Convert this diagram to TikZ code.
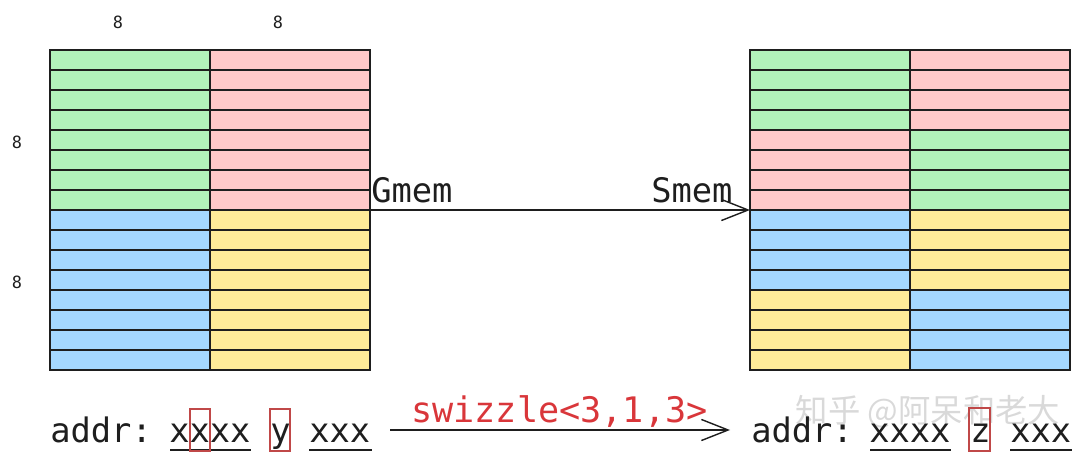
\documentclass[tikz,border=0pt]{standalone}
\usepackage{fontspec}
\newfontfamily\codefont{DejaVu Sans Mono}
\newfontfamily\cjkfont{Noto Sans CJK SC}
\usetikzlibrary{arrows.meta, positioning}
\definecolor{cgreen}{HTML}{B2F2BB}
\definecolor{cpink}{HTML}{FFC9C9}
\definecolor{cblue}{HTML}{A5D8FF}
\definecolor{cyellow}{HTML}{FFEC99}
\definecolor{cred}{HTML}{D9363A}
\definecolor{cbox}{HTML}{C04848}
\definecolor{cink}{HTML}{1E1E1E}
\tikzset{
	cell/.style={draw=cink, line width=1.35pt},
	codetext/.style={font=\codefont\fontsize{24}{28}\selectfont, text=cink, inner sep=0pt},
	sizetext/.style={font=\codefont\fontsize{12}{14}\selectfont, text=cink, inner sep=0pt}
}
\tikzset{
	flow/.style={draw=cink, line width=1pt, -{Straight Barb[length=19pt,width=15pt,line width=1pt]}}
}

\begin{document}
\begin{tikzpicture}[x=0.025cm, y=-0.025cm]
      \useasboundingbox (0,0) rectangle (1087,465);

      % source tile (global memory)
      \foreach \y/\a/\b in {50/cgreen/cpink, 210/cblue/cyellow} {
        \foreach \k in {0,...,7} {
          \filldraw[cell, fill=\a] (50,\y+20*\k) rectangle ++(160,20);
          \filldraw[cell, fill=\b] (210,\y+20*\k) rectangle ++(160,20);
        }
      }
      % swizzled tile (shared memory)
      \foreach \y/\a/\b in {50/cgreen/cpink, 130/cpink/cgreen,
                            210/cblue/cyellow, 290/cyellow/cblue} {
        \foreach \k in {0,...,3} {
          \filldraw[cell, fill=\a] (750,\y+20*\k) rectangle ++(160,20);
          \filldraw[cell, fill=\b] (910,\y+20*\k) rectangle ++(160,20);
        }
      }

      % sizes
      \node[sizetext] (w1) at (118,22) {8};
      \node[sizetext] (w2) at (278,22) {8};
      \node[sizetext] (h1) at (17,142) {8};
      \node[sizetext] (h2) at (17,282) {8};

      % copy arrow
      \coordinate (srcedge) at (370,210);
      \coordinate (dstedge) at (750,210);
      \draw[flow] (srcedge) -- (dstedge);
      \node[codetext, anchor=base west] (gmem) at (371,203) {Gmem};
      \node[codetext, anchor=base west] (smem) at (651,203) {Smem};

      % address bits before
      \node[codetext, anchor=base west] (addra) at (50,443) {addr:};
      \node[codetext, anchor=base west] (hia) at (169,443) {xxxx};
      \node[codetext, anchor=base west] (mida) at (270,443) {y};
      \node[codetext, anchor=base west] (loa) at (309,443) {xxx};
      \draw[cink, line width=1pt] (170,450) -- (251,450);
      \draw[cink, line width=1pt] (309,450) -- (372,450);
      \draw[cbox, line width=1pt] (190,409) rectangle (210,451);
      \draw[cbox, line width=1pt] (270,409) rectangle (290,451);

      % swizzle arrow
      \node[text=black!15, font=\cjkfont\fontsize{23}{27}\selectfont, anchor=center] (mark) at (928,412) {知乎 @阿呆和老大};
      \coordinate (swzfrom) at (390,430);
      \coordinate (swzto) at (730,430);
      \draw[flow] (swzfrom) -- (swzto);
      \node[codetext, text=cred, font=\codefont\fontsize{25}{29}\selectfont, anchor=base west] (swz) at (411,423) {swizzle<3,1,3>};

      % address bits after
      \node[codetext, anchor=base west] (addrb) at (751,443) {addr:};
      \node[codetext, anchor=base west] (hib) at (869,443) {xxxx};
      \node[codetext, anchor=base west] (midb) at (970,443) {z};
      \node[codetext, anchor=base west] (lob) at (1010,443) {xxx};
      \draw[cink, line width=1pt] (870,450) -- (951,450);
      \draw[cink, line width=1pt] (1010,450) -- (1072,450);
      \draw[cbox, line width=1pt] (969,408) rectangle (990,451);
\end{tikzpicture}
\end{document}
